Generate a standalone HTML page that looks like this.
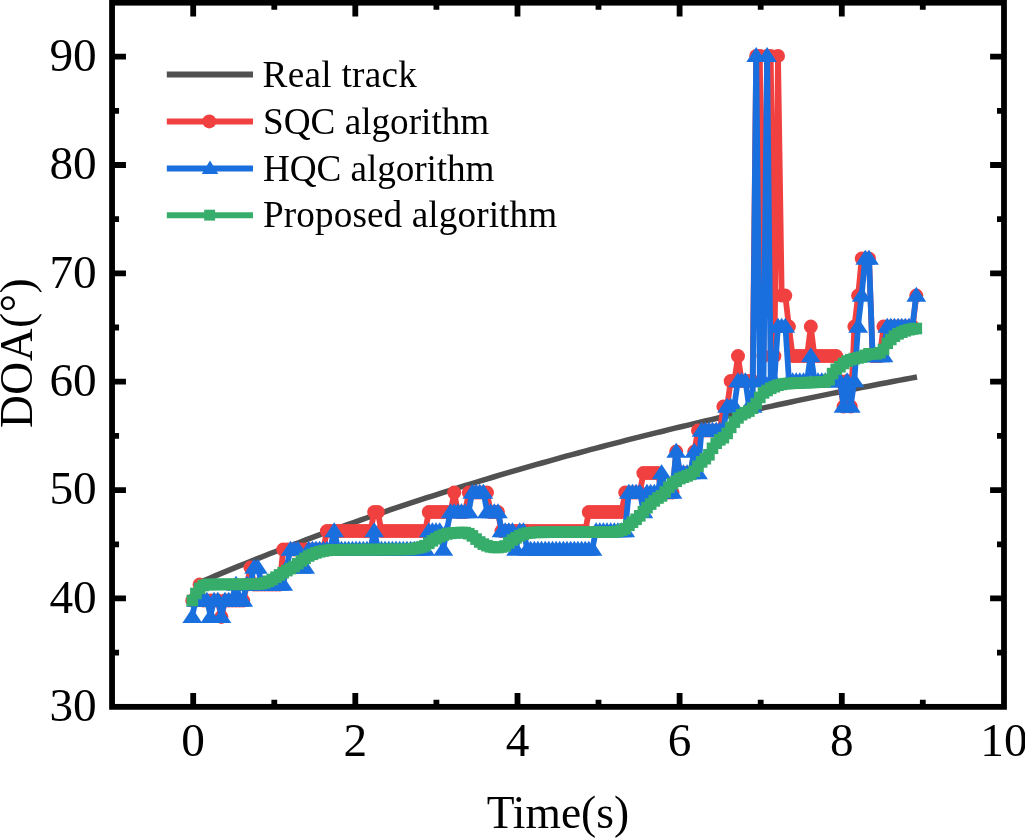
<!DOCTYPE html>
<html><head><meta charset="utf-8"><title>DOA tracking</title>
<style>
html,body{margin:0;padding:0;background:#fff;}
body{width:1025px;height:838px;overflow:hidden;}
svg{display:block;font-family:"Liberation Serif","Times New Roman",serif;fill:#000;}
.tk{font-size:47.3px;}
.lg{font-size:37.2px;}
.ax{font-size:45.5px;}
</style></head><body>
<svg width="1025" height="838" viewBox="0 0 1025 838">
<defs>
<marker id="mc" markerUnits="userSpaceOnUse" markerWidth="16" markerHeight="16" refX="8" refY="8" viewBox="0 0 16 16" overflow="visible"><circle cx="8" cy="8" r="7" fill="#F14040"/></marker>
<marker id="mt" markerUnits="userSpaceOnUse" markerWidth="22" markerHeight="18" refX="11" refY="9" viewBox="0 0 22 18" overflow="visible"><path d="M11,1.5L20.9,16.5H1.1Z" fill="#1A6FDF"/></marker>
<marker id="ms" markerUnits="userSpaceOnUse" markerWidth="12" markerHeight="12" refX="6" refY="6" viewBox="0 0 12 12" overflow="visible"><rect x="0.2" y="0.2" width="11.6" height="11.6" fill="#37AD6B"/></marker>
</defs>
<rect x="0" y="0" width="1025" height="838" fill="#fff"/>
<g fill="none" stroke-linejoin="round" stroke-linecap="butt">
<polyline points="197.0,583.6 203.1,581.0 209.1,578.5 215.2,575.9 221.2,573.4 227.3,570.9 233.3,568.4 239.4,565.9 245.4,563.5 251.5,561.0 257.5,558.6 263.6,556.2 269.6,553.8 275.7,551.5 281.7,549.1 287.8,546.8 293.8,544.5 299.9,542.2 305.9,539.9 312.0,537.7 318.0,535.4 324.1,533.2 330.1,531.0 336.2,528.8 342.2,526.6 348.3,524.4 354.3,522.3 360.4,520.2 366.4,518.0 372.5,515.9 378.5,513.9 384.6,511.8 390.6,509.7 396.7,507.7 402.7,505.7 408.8,503.7 414.8,501.7 420.9,499.7 426.9,497.7 433.0,495.8 439.0,493.8 445.1,491.9 451.1,490.0 457.2,488.1 463.2,486.2 469.3,484.4 475.3,482.5 481.4,480.7 487.4,478.8 493.5,477.0 499.5,475.2 505.6,473.4 511.6,471.7 517.7,469.9 523.7,468.1 529.8,466.4 535.8,464.7 541.9,463.0 547.9,461.3 554.0,459.6 560.0,457.9 566.1,456.2 572.1,454.6 578.2,453.0 584.2,451.3 590.3,449.7 596.3,448.1 602.4,446.5 608.4,444.9 614.5,443.3 620.5,441.8 626.6,440.2 632.6,438.7 638.7,437.2 644.7,435.7 650.8,434.1 656.8,432.6 662.9,431.2 668.9,429.7 675.0,428.2 681.0,426.8 687.1,425.3 693.1,423.9 699.2,422.4 705.2,421.0 711.3,419.6 717.3,418.2 723.4,416.8 729.4,415.5 735.5,414.1 741.5,412.7 747.6,411.4 753.6,410.0 759.7,408.7 765.7,407.4 771.8,406.1 777.8,404.8 783.9,403.5 789.9,402.2 796.0,400.9 802.0,399.6 808.1,398.4 814.1,397.1 820.2,395.9 826.2,394.6 832.3,393.4 838.3,392.2 844.4,390.9 850.4,389.7 856.5,388.5 862.5,387.3 868.6,386.2 874.6,385.0 880.7,383.8 886.7,382.7 892.8,381.5 898.8,380.4 904.9,379.2 910.9,378.1 917.0,377.0" stroke="#515151" stroke-width="5.5"/>
<polyline points="192.3,600.6 195.9,600.6 199.6,584.6 203.2,600.6 206.9,600.6 210.5,600.6 214.1,600.6 217.8,600.6 221.4,616.9 225.0,600.6 228.7,600.6 232.3,600.6 236.0,600.6 239.6,600.6 243.2,600.6 246.9,584.6 250.5,567.6 254.1,584.6 257.8,584.6 261.4,584.6 265.1,584.6 268.7,584.6 272.3,584.6 276.0,584.6 279.6,584.6 283.2,549.6 286.9,549.6 290.5,549.6 294.2,549.6 297.8,549.6 301.4,549.6 305.1,549.6 308.7,549.6 312.4,549.6 316.0,549.6 319.6,549.6 323.3,549.6 326.9,531.1 330.5,531.1 334.2,531.1 337.8,531.1 341.5,531.1 345.1,531.1 348.7,531.1 352.4,531.1 356.0,531.1 359.6,531.1 363.3,531.1 366.9,531.1 370.6,531.1 374.2,512.1 377.8,512.1 381.5,531.1 385.1,531.1 388.8,531.1 392.4,531.1 396.0,531.1 399.7,531.1 403.3,531.1 406.9,531.1 410.6,531.1 414.2,531.1 417.9,531.1 421.5,531.1 425.1,531.1 428.8,512.1 432.4,512.1 436.0,512.1 439.7,512.1 443.3,512.1 447.0,512.1 450.6,512.1 454.2,492.6 457.9,512.1 461.5,512.1 465.1,512.1 468.8,492.6 472.4,492.6 476.1,492.6 479.7,492.6 483.3,492.6 487.0,492.6 490.6,512.1 494.3,512.1 497.9,512.1 501.5,531.1 505.2,531.1 508.8,531.1 512.4,531.1 516.1,531.1 519.7,531.1 523.4,531.1 527.0,531.1 530.6,531.1 534.3,531.1 537.9,531.1 541.5,531.1 545.2,531.1 548.8,531.1 552.5,531.1 556.1,531.1 559.7,531.1 563.4,531.1 567.0,531.1 570.7,531.1 574.3,531.1 577.9,531.1 581.6,531.1 585.2,531.1 588.8,512.1 592.5,512.1 596.1,512.1 599.8,512.1 603.4,512.1 607.0,512.1 610.7,512.1 614.3,512.1 617.9,512.1 621.6,512.1 625.2,492.6 628.9,492.6 632.5,492.6 636.1,492.6 639.8,492.6 643.4,473.1 647.0,473.1 650.7,473.1 654.3,473.1 658.0,473.1 661.6,492.6 665.2,492.6 668.9,492.6 672.5,492.6 676.2,451.6 679.8,473.1 683.4,473.1 687.1,473.1 690.7,473.1 694.3,451.6 698.0,430.6 701.6,430.6 705.3,430.6 708.9,430.6 712.5,430.6 716.2,430.6 719.8,430.6 723.4,406.6 727.1,406.6 730.7,381.1 734.4,381.1 738.0,356.1 741.6,381.1 745.3,381.1 748.9,381.1 752.6,381.1 756.2,55.9 759.8,55.9 763.5,356.1 767.1,55.9 770.7,55.9 774.4,356.1 778.0,55.9 781.7,295.6 785.3,295.6 788.9,326.6 792.6,356.1 796.2,356.1 799.8,356.1 803.5,356.1 807.1,356.1 810.8,326.6 814.4,356.1 818.0,356.1 821.7,356.1 825.3,356.1 829.0,356.1 832.6,356.1 836.2,356.1 839.9,381.1 843.5,406.6 847.1,381.1 850.8,406.6 854.4,326.6 858.1,295.6 861.7,258.6 865.3,258.6 869.0,258.6 872.6,356.1 876.2,356.1 879.9,356.1 883.5,326.6 887.2,326.6 890.8,326.6 894.4,326.6 898.1,326.6 901.7,326.6 905.3,326.6 909.0,326.6 912.6,326.6 916.3,295.6" stroke="#F14040" stroke-width="5.8" marker-start="url(#mc)" marker-mid="url(#mc)" marker-end="url(#mc)"/>
<polyline points="192.3,615.6 195.9,599.3 199.6,599.3 203.2,599.3 206.9,599.3 210.5,615.6 214.1,599.3 217.8,599.3 221.4,615.6 225.0,599.3 228.7,599.3 232.3,599.3 236.0,583.3 239.6,599.3 243.2,599.3 246.9,583.3 250.5,583.3 254.1,566.3 257.8,566.3 261.4,583.3 265.1,583.3 268.7,583.3 272.3,583.3 276.0,583.3 279.6,583.3 283.2,583.3 286.9,566.3 290.5,548.3 294.2,548.3 297.8,548.3 301.4,566.3 305.1,566.3 308.7,548.3 312.4,548.3 316.0,548.3 319.6,548.3 323.3,548.3 326.9,548.3 330.5,548.3 334.2,529.8 337.8,548.3 341.5,548.3 345.1,548.3 348.7,548.3 352.4,548.3 356.0,548.3 359.6,548.3 363.3,548.3 366.9,548.3 370.6,548.3 374.2,529.8 377.8,548.3 381.5,548.3 385.1,548.3 388.8,548.3 392.4,548.3 396.0,548.3 399.7,548.3 403.3,548.3 406.9,548.3 410.6,548.3 414.2,548.3 417.9,548.3 421.5,548.3 425.1,548.3 428.8,529.8 432.4,529.8 436.0,529.8 439.7,529.8 443.3,548.3 447.0,529.8 450.6,510.8 454.2,510.8 457.9,510.8 461.5,510.8 465.1,510.8 468.8,510.8 472.4,491.3 476.1,491.3 479.7,491.3 483.3,491.3 487.0,510.8 490.6,510.8 494.3,510.8 497.9,510.8 501.5,529.8 505.2,529.8 508.8,529.8 512.4,529.8 516.1,548.3 519.7,529.8 523.4,529.8 527.0,548.3 530.6,548.3 534.3,548.3 537.9,548.3 541.5,548.3 545.2,548.3 548.8,548.3 552.5,548.3 556.1,548.3 559.7,548.3 563.4,548.3 567.0,548.3 570.7,548.3 574.3,548.3 577.9,548.3 581.6,548.3 585.2,548.3 588.8,548.3 592.5,548.3 596.1,529.8 599.8,529.8 603.4,529.8 607.0,529.8 610.7,529.8 614.3,529.8 617.9,529.8 621.6,529.8 625.2,529.8 628.9,491.3 632.5,491.3 636.1,491.3 639.8,491.3 643.4,510.8 647.0,491.3 650.7,491.3 654.3,491.3 658.0,491.3 661.6,471.8 665.2,491.3 668.9,491.3 672.5,491.3 676.2,450.3 679.8,471.8 683.4,471.8 687.1,471.8 690.7,471.8 694.3,450.3 698.0,471.8 701.6,429.3 705.3,429.3 708.9,429.3 712.5,429.3 716.2,429.3 719.8,429.3 723.4,429.3 727.1,405.3 730.7,405.3 734.4,405.3 738.0,379.8 741.6,379.8 745.3,379.8 748.9,405.3 752.6,405.3 756.2,54.6 759.8,379.8 763.5,379.8 767.1,54.6 770.7,379.8 774.4,379.8 778.0,325.3 781.7,325.3 785.3,325.3 788.9,379.8 792.6,379.8 796.2,379.8 799.8,379.8 803.5,379.8 807.1,379.8 810.8,354.8 814.4,379.8 818.0,379.8 821.7,379.8 825.3,379.8 829.0,379.8 832.6,379.8 836.2,379.8 839.9,379.8 843.5,405.3 847.1,379.8 850.8,405.3 854.4,379.8 858.1,325.3 861.7,294.3 865.3,257.3 869.0,257.3 872.6,354.8 876.2,354.8 879.9,354.8 883.5,354.8 887.2,325.3 890.8,325.3 894.4,325.3 898.1,325.3 901.7,325.3 905.3,325.3 909.0,325.3 912.6,325.3 916.3,294.3" stroke="#1A6FDF" stroke-width="5.8" marker-start="url(#mt)" marker-mid="url(#mt)" marker-end="url(#mt)"/>
<polyline points="192.3,600.5 195.9,593.5 199.6,588.4 203.2,585.5 206.9,584.5 210.5,584.5 214.1,584.5 217.8,584.4 221.4,584.4 225.0,584.4 228.7,584.4 232.3,584.3 236.0,584.3 239.6,584.3 243.2,584.3 246.9,584.3 250.5,584.2 254.1,584.2 257.8,584.0 261.4,583.7 265.1,582.7 268.7,581.3 272.3,579.5 276.0,577.2 279.6,574.9 283.2,572.7 286.9,570.6 290.5,568.6 294.2,566.5 297.8,563.7 301.4,560.9 305.1,558.4 308.7,556.0 312.4,554.3 316.0,552.9 319.6,551.8 323.3,551.0 326.9,550.4 330.5,550.1 334.2,549.9 337.8,549.8 341.5,549.8 345.1,549.7 348.7,549.7 352.4,549.7 356.0,549.7 359.6,549.7 363.3,549.6 366.9,549.6 370.6,549.6 374.2,549.6 377.8,549.6 381.5,549.6 385.1,549.5 388.8,549.5 392.4,549.5 396.0,549.5 399.7,549.5 403.3,549.4 406.9,549.4 410.6,549.3 414.2,548.6 417.9,547.9 421.5,547.0 425.1,545.7 428.8,543.3 432.4,540.8 436.0,538.6 439.7,536.6 443.3,535.1 447.0,533.9 450.6,533.3 454.2,532.8 457.9,532.7 461.5,532.5 465.1,532.6 468.8,533.7 472.4,535.9 476.1,539.1 479.7,542.0 483.3,544.1 487.0,545.7 490.6,546.8 494.3,547.4 497.9,547.5 501.5,547.0 505.2,546.0 508.8,542.8 512.4,540.0 516.1,537.8 519.7,535.8 523.4,534.2 527.0,533.2 530.6,532.8 534.3,532.4 537.9,532.3 541.5,532.3 545.2,532.3 548.8,532.2 552.5,532.2 556.1,532.2 559.7,532.2 563.4,532.2 567.0,532.2 570.7,532.2 574.3,532.2 577.9,532.1 581.6,532.1 585.2,532.1 588.8,532.1 592.5,532.1 596.1,532.1 599.8,532.1 603.4,532.0 607.0,532.0 610.7,532.0 614.3,532.0 617.9,531.4 621.6,530.2 625.2,528.8 628.9,525.3 632.5,522.2 636.1,519.3 639.8,515.8 643.4,511.7 647.0,507.7 650.7,504.1 654.3,500.9 658.0,498.0 661.6,495.9 665.2,492.0 668.9,487.1 672.5,483.7 676.2,481.2 679.8,478.6 683.4,477.2 687.1,475.9 690.7,474.4 694.3,471.3 698.0,466.3 701.6,461.9 705.3,458.7 708.9,454.8 712.5,448.3 716.2,443.2 719.8,439.9 723.4,437.7 727.1,433.4 730.7,427.4 734.4,422.1 738.0,417.9 741.6,414.7 745.3,412.8 748.9,411.1 752.6,408.2 756.2,403.6 759.8,397.4 763.5,392.9 767.1,390.5 770.7,388.3 774.4,386.7 778.0,385.2 781.7,384.4 785.3,383.7 788.9,383.5 792.6,383.3 796.2,383.1 799.8,383.0 803.5,382.8 807.1,382.6 810.8,382.5 814.4,382.4 818.0,382.2 821.7,382.1 825.3,381.8 829.0,379.7 832.6,373.6 836.2,369.3 839.9,366.7 843.5,363.5 847.1,361.1 850.8,359.7 854.4,358.7 858.1,357.9 861.7,357.1 865.3,355.4 869.0,353.8 872.6,353.8 876.2,353.8 879.9,352.8 883.5,349.5 887.2,343.3 890.8,339.5 894.4,336.2 898.1,333.8 901.7,332.2 905.3,330.8 909.0,329.7 912.6,329.0 916.3,328.5" stroke="#37AD6B" stroke-width="5.8" marker-start="url(#ms)" marker-mid="url(#ms)" marker-end="url(#ms)"/>
</g>
<g fill="none" stroke="#000" stroke-width="5.8">
<rect x="112.05" y="2.7" width="891.95" height="704.15"/>
<path d="M193.2,706.85v-13.9M193.2,2.7v13.9M355.3,706.85v-13.9M355.3,2.7v13.9M517.5,706.85v-13.9M517.5,2.7v13.9M679.6,706.85v-13.9M679.6,2.7v13.9M841.8,706.85v-13.9M841.8,2.7v13.9M274.3,706.85v-7M274.3,2.7v7M436.4,706.85v-7M436.4,2.7v7M598.5,706.85v-7M598.5,2.7v7M760.7,706.85v-7M760.7,2.7v7M922.8,706.85v-7M922.8,2.7v7M112.05,598.4h13.9M1004.0,598.4h-13.9M112.05,490.1h13.9M1004.0,490.1h-13.9M112.05,381.7h13.9M1004.0,381.7h-13.9M112.05,273.4h13.9M1004.0,273.4h-13.9M112.05,165.0h13.9M1004.0,165.0h-13.9M112.05,56.6h13.9M1004.0,56.6h-13.9M112.05,652.6h7M1004.0,652.6h-7M112.05,544.3h7M1004.0,544.3h-7M112.05,435.9h7M1004.0,435.9h-7M112.05,327.5h7M1004.0,327.5h-7M112.05,219.2h7M1004.0,219.2h-7M112.05,110.8h7M1004.0,110.8h-7"/>
</g>
<g class="tk"><text x="193.2" y="756.4" text-anchor="middle">0</text><text x="355.3" y="756.4" text-anchor="middle">2</text><text x="517.5" y="756.4" text-anchor="middle">4</text><text x="679.6" y="756.4" text-anchor="middle">6</text><text x="841.8" y="756.4" text-anchor="middle">8</text><text x="1003.9" y="756.4" text-anchor="middle">10</text><text x="96.7" y="721.1" text-anchor="end">30</text><text x="96.7" y="612.7" text-anchor="end">40</text><text x="96.7" y="504.4" text-anchor="end">50</text><text x="96.7" y="396.0" text-anchor="end">60</text><text x="96.7" y="287.7" text-anchor="end">70</text><text x="96.7" y="179.3" text-anchor="end">80</text><text x="96.7" y="70.9" text-anchor="end">90</text></g>
<g fill="none" stroke-width="6">
<path d="M166.8,74.4H253" stroke="#515151"/>
<path d="M166.8,121.4H253" stroke="#F14040"/>
<path d="M166.8,168.4H253" stroke="#1A6FDF"/>
<path d="M166.8,215.2H253" stroke="#37AD6B"/>
</g>
<circle cx="209.3" cy="121.4" r="7" fill="#F14040"/>
<path d="M210,160.4L218.3,174H201.7Z" fill="#1A6FDF"/>
<rect x="204.2" y="209.7" width="10.9" height="10.9" fill="#37AD6B"/>
<g class="lg">
<text x="262.6" y="86.8" textLength="154.2">Real track</text>
<text x="263" y="134">SQC algorithm</text>
<text x="263" y="180.7" textLength="231.4">HQC algorithm</text>
<text x="263" y="227.4" textLength="294.2">Proposed algorithm</text>
</g>
<text class="ax" x="557.9" y="828" text-anchor="middle">Time(s)</text>
<text class="ax" transform="translate(32,353.2) rotate(-90)" text-anchor="middle" textLength="149.6">DOA(°)</text>
</svg>
</body></html>
